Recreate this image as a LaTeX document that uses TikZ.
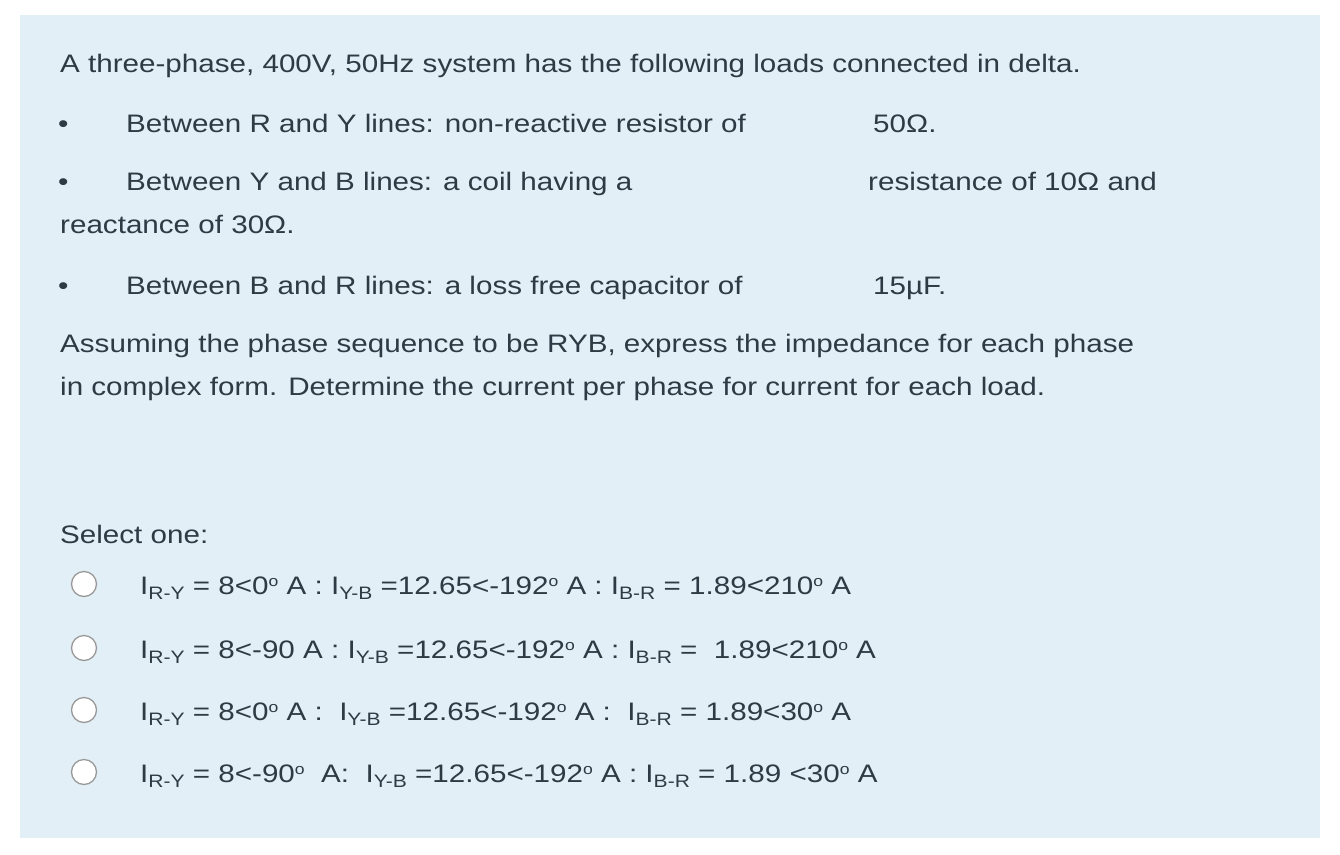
\documentclass[tikz,border=0pt]{standalone}
\usepackage{fontspec}
\setmainfont{Liberation Sans}[FakeStretch=1.17]
\definecolor{panel}{HTML}{E2EFF7}
\definecolor{txt}{HTML}{2E3A44}
\newcommand{\sbs}[1]{\raisebox{-5pt}{\fontsize{18}{18}\selectfont #1}}
\newcommand{\dg}{\raisebox{8pt}{\fontsize{15}{15}\selectfont o}}
\begin{document}
\begin{tikzpicture}[x=1pt,y=-1pt,
  t/.style={anchor=base west,inner sep=0pt,text=txt,font=\fontsize{25.3}{29}\selectfont},
  radio/.style={circle,draw=gray!80,line width=1.3pt,fill=white,minimum size=25pt,inner sep=0pt}]
\useasboundingbox (0,0) rectangle (1340,854);
\fill[panel] (20,15) rectangle (1320,838);
\node[t] (l1) at (60,72) {A three-phase, 400V, 50Hz system has the following loads connected in delta.};
\node[t] (b1) at (58,132) {•}; \node[t] (l2) at (126,132) {Between R and Y lines: non-reactive resistor of};
\node[t] (l2b) at (873,132) {50Ω.};
\node[t] (b2) at (58,190) {•}; \node[t] (l3) at (126,190) {Between Y and B lines: a coil having a};
\node[t] (l3b) at (868,190) {resistance of 10Ω and};
\node[t] (l4) at (60,233) {reactance of 30Ω.};
\node[t] (b3) at (58,294) {•}; \node[t] (l5) at (126,294) {Between B and R lines: a loss free capacitor of};
\node[t] (l5b) at (873,294) {15µF.};
\node[t] (l6) at (60,352) {Assuming the phase sequence to be RYB, express the impedance for each phase};
\node[t] (l7) at (60,395) {in complex form. Determine the current per phase for current for each load.};
\node[t] (sel) at (60,543) {Select one:};
\node[radio] (r1) at (84,584) {}; \node[radio] (r2) at (84,648) {};
\node[radio] (r3) at (84,710) {}; \node[radio] (r4) at (84,772) {};
\node[t] (o1) at (140,594) {I\sbs{R-Y} = 8<0\dg\ A : I\sbs{Y-B} =12.65<-192\dg\ A : I\sbs{B-R} = 1.89<210\dg\ A};
\node[t] (o2) at (140,658) {I\sbs{R-Y} = 8<-90 A : I\sbs{Y-B} =12.65<-192\dg\ A : I\sbs{B-R} =\ \ 1.89<210\dg\ A};
\node[t] (o3) at (140,720) {I\sbs{R-Y} = 8<0\dg\ A :\ \ I\sbs{Y-B} =12.65<-192\dg\ A :\ \ I\sbs{B-R} = 1.89<30\dg\ A};
\node[t] (o4) at (140,782) {I\sbs{R-Y} = 8<-90\dg\ \ A:\ \ I\sbs{Y-B} =12.65<-192\dg\ A : I\sbs{B-R} = 1.89 <30\dg\ A};
\end{tikzpicture}
\end{document}
